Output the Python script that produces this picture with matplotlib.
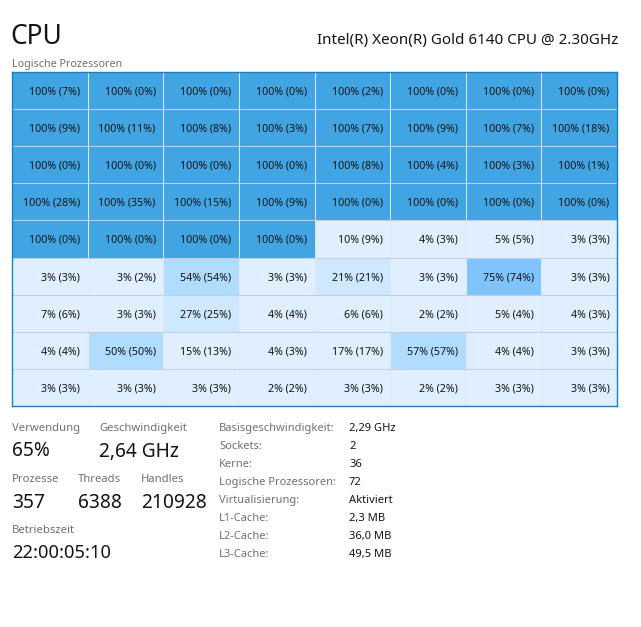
import numpy as np
import matplotlib
matplotlib.use("Agg")
import matplotlib.pyplot as plt
from matplotlib.colors import ListedColormap, BoundaryNorm

W, H = 641, 627

usage = [
    [100, 100, 100, 100, 100, 100, 100, 100],
    [100, 100, 100, 100, 100, 100, 100, 100],
    [100, 100, 100, 100, 100, 100, 100, 100],
    [100, 100, 100, 100, 100, 100, 100, 100],
    [100, 100, 100, 100, 10, 4, 5, 3],
    [3, 3, 54, 3, 21, 3, 75, 3],
    [7, 3, 27, 4, 6, 2, 5, 4],
    [4, 50, 15, 4, 17, 57, 4, 3],
    [3, 3, 3, 2, 3, 2, 3, 3],
]
kernel = [
    [7, 0, 0, 0, 2, 0, 0, 0],
    [9, 11, 8, 3, 7, 9, 7, 18],
    [0, 0, 0, 0, 8, 4, 3, 1],
    [28, 35, 15, 9, 0, 0, 0, 0],
    [0, 0, 0, 0, 9, 3, 5, 3],
    [3, 2, 54, 3, 21, 3, 74, 3],
    [6, 3, 25, 4, 6, 2, 4, 3],
    [4, 50, 13, 3, 17, 57, 4, 3],
    [3, 3, 3, 2, 3, 2, 3, 3],
]

stats_left = [
    ("Verwendung", "65%", 12, 431),
    ("Geschwindigkeit", "2,64 GHz", 99, 431),
    ("Prozesse", "357", 12, 482),
    ("Threads", "6388", 78, 482),
    ("Handles", "210928", 141, 482),
    ("Betriebszeit", "22:00:05:10", 12, 533),
]
info_labels = ["Basisgeschwindigkeit:", "Sockets:", "Kerne:", "Logische Prozessoren:",
               "Virtualisierung:", "L1-Cache:", "L2-Cache:", "L3-Cache:"]
info_values = ["2,29 GHz", "2", "36", "72", "Aktiviert", "2,3 MB", "36,0 MB", "49,5 MB"]

plt.rcParams["font.family"] = ["Noto Sans", "DejaVu Sans"]
GRAY = "#707070"
TEXT = "#141414"


def put(fig, x, y, s, size, color=TEXT, ha="left"):
    # x, y sind Pixel im Bild (y von oben), y = Grundlinie
    fig.text(x / W, 1 - y / H, s, fontsize=size, color=color, ha=ha, va="baseline")


fig = plt.figure(figsize=(W / 100, H / 100), dpi=100, facecolor="white")

left, right, top, bottom = 12, 617, 72, 406
ax = fig.add_axes([left / W, 1 - bottom / H, (right - left) / W, (bottom - top) / H])

values = np.array(usage)
nrows, ncols = values.shape
cmap = ListedColormap(["#dfefff", "#cde8ff", "#b0dcff", "#80c4ff", "#41a5e4"])
norm = BoundaryNorm([0, 20, 40, 70, 90, 101], cmap.N)
ax.pcolormesh(np.arange(ncols + 1), np.arange(nrows + 1), values, cmap=cmap, norm=norm)
ax.set_xlim(0, ncols)
ax.set_ylim(nrows, 0)
ax.set_xticks([])
ax.set_yticks([])
for s in ax.spines.values():
    s.set_color("#1b80bd")
    s.set_linewidth(1.0)

# Trennlinien: auf dunklen Zellen hell, auf hellen kaum sichtbar
for r in range(nrows):
    for c in range(1, ncols):
        color = "#dde6ee" if values[r, c - 1] == 100 else "#e3e9f0"
        ax.vlines(c, r, r + 1, color=color, linewidth=0.75)
ax.hlines(np.arange(1, nrows), 0, ncols, color="#bfd0e2", linewidth=0.75)

for r in range(nrows):
    for c in range(ncols):
        x = left + (c + 1) * (right - left) / ncols - 7.5
        y = top + (r + 0.5) * (bottom - top) / nrows + 4
        put(fig, x, y, f"{usage[r][c]}% ({kernel[r][c]}%)", 7.7, ha="right")

put(fig, 10, 44, "CPU", 19)
put(fig, 618, 44, "Intel(R) Xeon(R) Gold 6140 CPU @ 2.30GHz", 10.95, ha="right")
put(fig, 12, 67, "Logische Prozessoren", 7.75, GRAY)

for label, value, x, y in stats_left:
    put(fig, x, y, label, 8.1, GRAY)
    size = 13.2 if label == "Betriebszeit" else 13.8
    put(fig, x, y + 25.5, value, size)

for i, (label, value) in enumerate(zip(info_labels, info_values)):
    put(fig, 219, 431 + 18 * i, label, 8.0, GRAY)
    put(fig, 349, 431 + 18 * i, value, 8.0)

fig.savefig("out.png", dpi=100)
